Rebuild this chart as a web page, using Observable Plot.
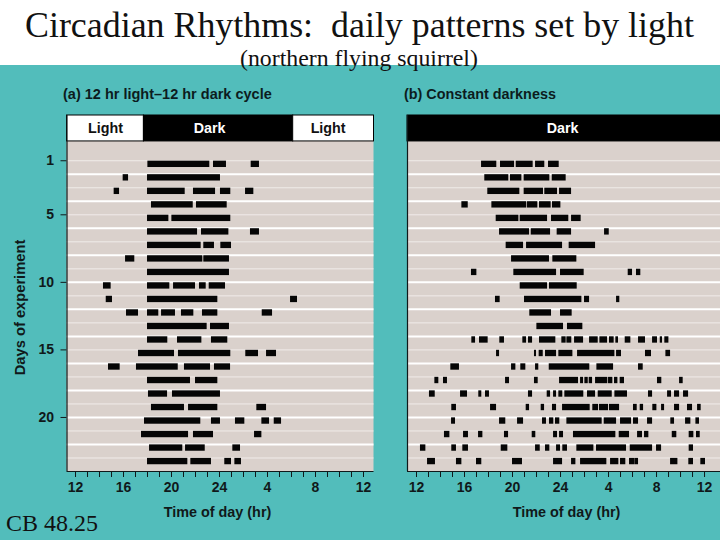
<!DOCTYPE html>
<html><head><meta charset="utf-8">
<script src="https://cdn.jsdelivr.net/npm/d3@7"></script>
<script src="https://cdn.jsdelivr.net/npm/@observablehq/plot@0.6"></script>
<style>
html,body{margin:0;padding:0;width:720px;height:540px;overflow:hidden;background:#fff}
#stage{position:relative;width:720px;height:540px;overflow:hidden}
#teal{position:absolute;left:0;top:65px;width:720px;height:475px;background:#52bdbb}
.serif{position:absolute;font-family:"Liberation Serif",serif;color:#111;white-space:pre;line-height:.95}
.head{position:absolute;font-family:"Liberation Sans",sans-serif;font-weight:bold;color:#0c1c1e;white-space:pre;line-height:1}
#a,#b{position:absolute;top:65px}
</style></head><body>
<div id="stage">
<div id="teal"></div>
<div class="serif" style="left:25px;top:8px;font-size:35.9px">Circadian Rhythms:  daily patterns set by light</div>
<div class="serif" style="left:240px;top:47px;font-size:23.8px">(northern flying squirrel)</div>
<div class="head" style="left:63px;top:87px;font-size:14.5px">(a) 12 hr light–12 hr dark cycle</div>
<div class="head" style="left:404px;top:87px;font-size:14.4px">(b) Constant darkness</div>
<div class="serif" style="left:6px;top:512px;font-size:24px">CB 48.25</div>
<div id="a"></div><div id="b"></div>
</div>
<script>
// Start/end hour pairs per day; hours run from 12 (noon) past 24 (midnight) to 36 (next noon).
const boutsA = [
[18.03,23.19,23.5,24.58,26.64,27.33],
[15.97,16.42,18,24.08],
[15.22,15.67,18,21.14,21.83,23.67,24.08,24.94,26.17,26.86],
[18.33,21.81,22.08,24.64],
[18,19.78,20.03,24.94],
[18,22.17,22.5,24.78,26.58,27.33],
[18,22.47,22.69,23.58,24.11,25],
[16.17,16.94,18,22.61,22.69,24.83],
[18,24.83],
[14.33,14.97,18,19.86,20.17,22,22.33,22.89,23.14,24.5],
[14.56,15.08,18,23.86,29.92,30.5],
[16.25,17.25,18,18.94,19.17,20.33,20.83,21.86,22.58,23.86,27.56,28.42],
[18,22.97,23.25,24.83],
[18,19.69,20.5,22.53,23.33,24.69],
[17.25,20.25,20.58,24.94,26.19,27.25,27.92,28.75],
[14.75,15.72,17.08,20.56,21.08,23.25,23.58,24.92],
[18,21.58,22,23.86],
[18.08,19.67,20.08,24.08],
[18.33,21.08,21.42,23.86,27.11,27.92],
[17.75,22.44,23.33,24.08,25.33,26.11,27.53,28.17,28.56,29.17],
[17.5,21.42,21.83,23.5,26.92,27.53],
[18.17,20.94,21.17,22.81,25.11,25.75],
[18,21.36,21.61,23.33,24.44,25,25.28,25.83]
];
const boutsB = [
[17.42,18.69,19,20.17,20.31,21.72,21.92,22.69,23,23.89],
[17.69,19.69,19.83,20.78,20.97,23.11,23.31,24.47],
[17.94,20.61,20.97,22.58,22.69,23.75,23.92,24.92],
[15.78,16.31,18.28,21.19,21.25,22.11,22.25,23.22,23.33,24.03],
[18.64,20.53,20.64,22.92,23.25,24.69,24.92,25.72],
[18.92,21.42,21.56,23.17,23.72,24.92,27.67,28.06],
[19.47,20.92,21.17,24.17,24.72,26.92],
[19.92,23.08,23.36,25.36],
[16.58,17.03,20.11,23.67,24,25.97,29.64,30,30.33,30.69],
[20.64,22.92,23.08,25.39],
[18.58,18.97,21,25.78,26,26.42,28.67,28.94],
[21.44,23.25,24,24.97],
[22.03,24.25,24.58,25.86],
[16.61,16.92,17.25,17.97,18.94,19.33,20.86,21.17,21.33,21.67,22.25,23.61,24.11,24.47,24.53,24.94,25.17,25.92,26.42,27.14,27.28,27.92,28.08,28.47,28.61,28.83,29.39,29.86,30.5,31.08,31.67,32.08,32.31,32.5,32.69,33.03],
[18.67,18.92,21.83,22,22.22,22.56,22.75,23.67,23.86,25.03,25.42,28.53,28.67,29.08,31.08,31.58,32.78,33.17],
[14.86,15.58,19.92,20.28,20.69,21.11,21.92,22.19,23.06,26.44,27.03,28.42,30.5,30.89],
[13.53,13.86,14.25,14.58,19.42,19.75,21.83,22.14,23.92,25.5,25.67,25.92,26.03,26.31,26.39,26.67,26.92,27.94,28,28.36,28.5,28.78,28.97,29.33,32.08,32.44,33.92,34.22],
[13.08,13.56,15.67,16.25,17.19,17.44,17.75,18.08,21.33,21.67,22.89,23.17,23.42,23.67,23.86,24.19,24.36,25.94,26.25,26.92,27.14,28.31,28.53,29.58,31.33,31.67,32.92,33.25,33.5,33.92,34.25,34.67],
[14.94,15.33,18.17,18.67,21.14,21.42,22.39,22.67,23.33,23.67,24.17,26.47,26.69,27.17,27.25,28,28.08,28.92,30.08,30.39,30.64,30.92,31.69,32.03,32.42,32.67,33.5,33.92,34.58,35,35.42,35.72],
[14.92,15.25,18.92,19.44,20.42,20.92,22.5,22.83,23.08,23.44,23.58,23.94,24.53,27.47,27.64,28.67,29,29.92,30.08,30.5,31.25,31.67,33.19,33.5,34.42,34.86,35.28,35.58],
[14.33,14.78,15.92,16.33,17.17,17.53,19.33,19.67,21.64,21.94,23.42,23.75,23.92,24.25,25.08,28.61,28.89,29.75,30.42,30.83,31,31.36,33.31,33.69,34.72,35.11,35.33,35.64],
[12.33,12.78,14.94,15.33,15.86,16.33,19.06,19.61,21.92,22.31,22.75,23.11,23.67,24,24.19,24.58,25.36,26.78,27,29.5,29.81,31.67,32,32.42,34.72,35.08],
[12.92,13.58,15.33,15.78,17,17.44,20,20.83,23.42,24.17,24.92,25.28,25.67,27.86,28.17,28.86,29,29.44,29.75,30.17,30.19,30.5,33.17,33.78,34.69,35.08,35.69,36.08]
];
const hourTicks = [12,13,14,15,16,17,18,19,20,21,22,23,24,25,26,27,28,29,30,31,32,33,34,35,36];
const labelledHours = [12,16,20,24,28,32,36];
const dayTicks = [1,5,10,15,20];
const rowLines = [1,2,3,4,5,6,7,8,9,10,11,12,13,14,15,16,17,18,19,20,21,22,23];
const bandsA = [
  {name:"Light", x1:11.29, x2:17.7,  at:14.5,  fill:"#fff", ink:"#111"},
  {name:"Dark",  x1:17.7,  x2:30.14, at:23.17, fill:"#000", ink:"#fff"},
  {name:"Light", x1:30.14, x2:36.875,at:33.05, fill:"#fff", ink:"#111"}
];
const bandsB = [
  {name:"Dark",  x1:11.25, x2:37.33, at:24.17, fill:"#000", ink:"#fff"}
];
const HEAD_TOP = -2.35, HEAD_BOTTOM = -0.43, LAST = 24;
const INK = "#10191a";

function table(rows){
  const out = [];
  rows.forEach((r,i)=>{ for(let j=0;j<r.length;j+=2) out.push({day:i+1,start:r[j],end:r[j+1]}); });
  return out;
}
function hourLabel(h){ return String(h<=24 ? h : h-24); }

function panel({rows, bands, xDomain, timeAt, width, marginLeft, marginRight, withDays}){
  const marks = [
    Plot.rect([0],{x1:xDomain[0],x2:xDomain[1],y1:HEAD_BOTTOM,y2:LAST,fill:"#dad1cc"}),
    Plot.ruleY(rowLines.filter(d=>d%2===1),{stroke:"#f1ecea",strokeWidth:1}),
    Plot.ruleY(rowLines.filter(d=>d%2===0),{stroke:"#fff",strokeWidth:2}),
    Plot.rect(table(rows),{x1:"start",x2:"end",y1:d=>d.day+0.03,y2:d=>d.day+0.5,fill:"#050505"}),
    Plot.rect(bands,{x1:"x1",x2:"x2",y1:HEAD_TOP,y2:HEAD_BOTTOM,fill:"fill",stroke:"#000",strokeWidth:1}),
    Plot.text(bands,{x:"at",y:(HEAD_TOP+HEAD_BOTTOM)/2,text:"name",fill:"ink",fontSize:14.3,fontWeight:"bold"}),
    Plot.ruleX([xDomain[0]],{y1:HEAD_TOP,y2:LAST,stroke:INK,strokeWidth:1.2}),
    Plot.ruleY([LAST],{stroke:INK,strokeWidth:1.2}),
    Plot.axisX({ticks:hourTicks,tickSize:6,text:null,stroke:INK,label:null}),
    Plot.axisX({ticks:labelledHours,tickSize:0,tickPadding:11,tickFormat:hourLabel,fill:INK,fontSize:14,fontWeight:"bold",label:null}),
    Plot.text(["Time of day (hr)"],{x:timeAt,y:27.06,fill:INK,fontSize:14.4,fontWeight:"bold"})
  ];
  if(withDays){
    marks.push(
      Plot.axisY({ticks:dayTicks,tickSize:6,tickPadding:7,stroke:INK,fill:INK,fontSize:14,fontWeight:"bold",label:null}),
      Plot.text(["Days of experiment"],{x:7.42,y:11.86,rotate:-90,fill:INK,fontSize:14.7,fontWeight:"bold"})
    );
  }
  return Plot.plot({
    width, height:475,
    marginLeft, marginRight, marginTop:50, marginBottom:69,
    style:{background:"transparent",fontFamily:"'Liberation Sans',sans-serif",overflow:"visible"},
    x:{domain:xDomain,axis:null},
    y:{domain:[HEAD_TOP,LAST],reverse:true,axis:null},
    marks
  });
}
const elA = document.getElementById("a"), elB = document.getElementById("b");
elA.style.left="0px"; elB.style.left="390px";
elA.append(panel({rows:boutsA,bands:bandsA,xDomain:[11.29,36.875],timeAt:23.83,width:390,marginLeft:66.5,marginRight:16.5,withDays:true}));
elB.append(panel({rows:boutsB,bands:bandsB,xDomain:[11.25,37.33],timeAt:24.5,width:330,marginLeft:17,marginRight:0,withDays:false}));
</script>
</body></html>
